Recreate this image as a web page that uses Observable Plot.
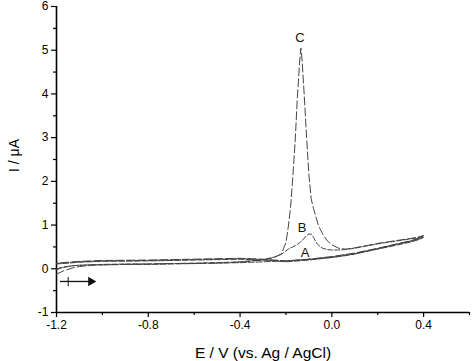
<!DOCTYPE html>
<html><head><meta charset="utf-8">
<script src="https://cdn.jsdelivr.net/npm/d3@7"></script>
<script src="https://cdn.jsdelivr.net/npm/@observablehq/plot@0.6"></script>
<style>body{margin:0;background:#fff} svg{display:block}</style>
</head><body><div id="chart"></div>
<script>
// Forward (anodic) scan potentials, V
const eForward = [-1.2, -1.17, -1.13, -1.1, -1.05, -1.0, -0.9, -0.8, -0.7, -0.6, -0.5, -0.4, -0.3, -0.25, -0.22, -0.21, -0.2, -0.19, -0.18, -0.17, -0.16, -0.15, -0.14, -0.135, -0.13, -0.12, -0.11, -0.1, -0.09, -0.08, -0.07, -0.06, -0.05, -0.04, -0.02, 0.0, 0.03, 0.06, 0.1, 0.15, 0.2, 0.25, 0.3, 0.35, 0.38, 0.4];
const iForwardA = [0.0, 0.04, 0.07, 0.08, 0.09, 0.09, 0.1, 0.1, 0.11, 0.12, 0.13, 0.14, 0.16, 0.17, 0.18, 0.18, 0.18, 0.19, 0.19, 0.19, 0.2, 0.2, 0.2, 0.2, 0.21, 0.21, 0.21, 0.22, 0.22, 0.22, 0.23, 0.23, 0.24, 0.24, 0.25, 0.26, 0.28, 0.3, 0.34, 0.4, 0.46, 0.52, 0.58, 0.64, 0.68, 0.72];
const iForwardB = [-0.02, 0.03, 0.07, 0.08, 0.09, 0.1, 0.11, 0.11, 0.12, 0.13, 0.14, 0.16, 0.21, 0.27, 0.33, 0.37, 0.41, 0.45, 0.48, 0.5, 0.53, 0.56, 0.6, 0.62, 0.64, 0.7, 0.76, 0.8, 0.79, 0.72, 0.62, 0.55, 0.5, 0.47, 0.44, 0.43, 0.43, 0.44, 0.47, 0.52, 0.57, 0.61, 0.65, 0.69, 0.72, 0.75];
const iForwardC = [-0.12, -0.05, 0.02, 0.05, 0.08, 0.09, 0.1, 0.11, 0.12, 0.12, 0.13, 0.15, 0.2, 0.26, 0.34, 0.47, 0.6, 0.95, 1.4, 2.1, 2.9, 3.95, 4.75, 5.05, 4.8, 3.95, 3.0, 2.15, 1.6, 1.38, 1.2, 1.02, 0.9, 0.8, 0.64, 0.55, 0.47, 0.45, 0.48, 0.53, 0.58, 0.62, 0.66, 0.7, 0.73, 0.76];
// Reverse (cathodic) scan potentials, V
const eReverse = [0.4, 0.38, 0.35, 0.3, 0.2, 0.1, 0.0, -0.1, -0.2, -0.3, -0.4, -0.6, -0.8, -1.0, -1.1, -1.15, -1.2];
const iReverseA = [0.72, 0.67, 0.62, 0.56, 0.45, 0.34, 0.26, 0.2, 0.16, 0.2, 0.22, 0.2, 0.18, 0.17, 0.15, 0.13, 0.11];
const iReverseB = [0.75, 0.7, 0.64, 0.58, 0.46, 0.35, 0.27, 0.21, 0.17, 0.21, 0.23, 0.21, 0.19, 0.18, 0.16, 0.14, 0.12];
const iReverseC = [0.76, 0.71, 0.65, 0.59, 0.47, 0.36, 0.28, 0.22, 0.18, 0.22, 0.24, 0.22, 0.2, 0.19, 0.17, 0.15, 0.13];

const curveNames = ["A", "B", "C"];
const labelE = [-0.117, -0.13, -0.139];
const labelI = [0.37, 0.94, 5.29];

const xTicks = [-1.2, -0.8, -0.4, 0.0, 0.4];
const xMinorTicks = [-1.0, -0.6, -0.2, 0.2, 0.6];
const yTicks = [-1, 0, 1, 2, 3, 4, 5, 6];
const yMinorTicks = [-0.5, 0.5, 1.5, 2.5, 3.5, 4.5, 5.5];

// scan-direction arrow annotation (data units)
const arrowE = [-1.183, -1.05];
const arrowI = [-0.29];
const arrowTickE = [-1.149];
const arrowTickI = [-0.2, -0.41];

const forwardI = {A: iForwardA, B: iForwardB, C: iForwardC};
const reverseI = {A: iReverseA, B: iReverseB, C: iReverseC};
const rows = [];
for (const c of curveNames) {
  eForward.forEach((e, k) => rows.push({curve: c, E: e, I: forwardI[c][k]}));
  eReverse.forEach((e, k) => rows.push({curve: c, E: e, I: reverseI[c][k]}));
}
const labels = curveNames.map((c, k) => ({name: c, E: labelE[k], I: labelI[k]}));
const dashes = {A: "6,2", B: "5,2", C: "8,3"};

const font = "'Liberation Sans', Arial, sans-serif";
const chart = Plot.plot({
  width: 474, height: 361,
  marginLeft: 56, marginRight: 5, marginTop: 6, marginBottom: 49,
  style: {fontFamily: font, fontSize: "12px", color: "#000", background: "#fff"},
  x: {domain: [-1.2, 0.6]},
  y: {domain: [-1, 6]},
  marks: [
    Plot.axisX(xTicks, {tickSize: 5, tickPadding: 3, tickFormat: d => d.toFixed(1), label: null, fontSize: 12, strokeWidth: 1.2}),
    Plot.axisX(xMinorTicks, {tickSize: 3, tickFormat: () => "", label: null, strokeWidth: 1.2}),
    Plot.axisY(yTicks, {tickSize: 5, tickPadding: 3, tickFormat: d => String(d), label: null, fontSize: 12, strokeWidth: 1.2}),
    Plot.axisY(yMinorTicks, {tickSize: 3, tickFormat: () => "", label: null, strokeWidth: 1.2}),
    Plot.ruleX([-1.2], {stroke: "#000", strokeWidth: 1.6}),
    Plot.ruleY([-1], {stroke: "#000", strokeWidth: 1.6}),
    ...curveNames.map(c => Plot.line(rows.filter(r => r.curve === c), {
      x: "E", y: "I", stroke: "#444", strokeWidth: 1, strokeDasharray: dashes[c], curve: "linear"
    })),
    Plot.text(labels, {x: "E", y: "I", text: "name", fontSize: 13, fill: "#111"}),
    Plot.ruleY(arrowI, {x1: arrowE[0], x2: arrowE[1], stroke: "#111", strokeWidth: 1.3}),
    Plot.dot(arrowI, {x: arrowE[1], y: d => d, symbol: "triangle", rotate: 90, r: 3.5, fill: "#111", stroke: null}),
    Plot.ruleX(arrowTickE, {y1: arrowTickI[0], y2: arrowTickI[1], stroke: "#111", strokeWidth: 1}),
    Plot.text(["E / V (vs. Ag / AgCl)"], {frameAnchor: "bottom", textAnchor: "middle", dy: 45, lineAnchor: "bottom", fontSize: 15.5}),
    Plot.text(["I / \u03bcA"], {frameAnchor: "left", textAnchor: "middle", dx: -42, dy: -4, rotate: -90, fontSize: 14})
  ]
});
document.getElementById("chart").appendChild(chart);
</script>
</body></html>
